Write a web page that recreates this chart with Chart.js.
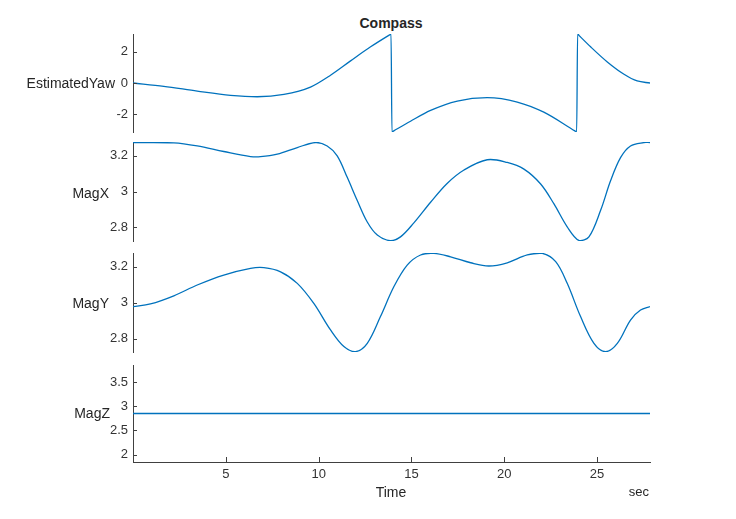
<!DOCTYPE html>
<html>
<head>
<meta charset="utf-8">
<title>Compass</title>
<script src="https://cdn.jsdelivr.net/npm/chart.js@4.4.1/dist/chart.umd.min.js"></script>
<style>
  html, body { margin: 0; padding: 0; background: #fff; }
  #fig { position: relative; width: 736px; height: 519px; overflow: hidden;
         font-family: "Liberation Sans", Arial, sans-serif; color: #262626; }
  #fig canvas { position: absolute; left: 0; }
  .txt { position: absolute; font-size: 14px; line-height: 16px; white-space: nowrap; }
  .center { transform: translateX(-50%); }
</style>
</head>
<body>
<div id="fig">
  <div class="txt center" style="left:391px; top:15px; font-weight:bold;">Compass</div>

  <canvas id="yawChart" width="736" height="110" style="top:28px"></canvas>
  <canvas id="magXChart" width="736" height="111" style="top:136px"></canvas>
  <canvas id="magYChart" width="736" height="111" style="top:247px"></canvas>
  <canvas id="magZChart" width="736" height="160" style="top:359px"></canvas>

  <div class="txt" style="right:621px; top:75px;">EstimatedYaw</div>
  <div class="txt" style="right:627px; top:185px;">MagX</div>
  <div class="txt" style="right:627px; top:295px;">MagY</div>
  <div class="txt" style="right:626px; top:405px;">MagZ</div>

  <div class="txt center" style="left:391px; top:484px;">Time</div>
  <div class="txt" style="right:87px; top:484px; font-size:13px;">sec</div>
</div>

<script>
// --- data ---
const timeRange = [0, 27.85];
const xTicks = [5, 10, 15, 20, 25];

const yawTime   = [0, 1.66, 3.46, 5.25, 6.69, 8.13, 9.56, 10.64, 11.72, 12.8, 13.8, 13.9,
                   13.95, 14.05, 14.95, 16.03, 17.47, 19.08, 20.7, 22.13, 23.8, 23.9,
                   23.95, 24.05, 24.65, 25.55, 26.45, 27.16, 27.85];
const yawValues = [0, -0.21, -0.52, -0.79, -0.88, -0.73, -0.26, 0.50, 1.42, 2.32, 3.07, 3.14,
                   -3.14, -3.07, -2.45, -1.76, -1.16, -0.94, -1.22, -1.87, -3.07, -3.14,
                   3.14, 3.02, 2.32, 1.35, 0.56, 0.13, 0.0];
const yawTicks  = [-2, 0, 2];
const yawLimits = [-Math.PI, Math.PI];

const magXTime   = [0, 2.2, 3.46, 4.89, 6.33, 6.87, 7.77, 8.85, 9.83, 10.46, 11.0, 11.54,
                    12.08, 12.62, 13.16, 13.85, 14.41, 15.13, 16.03, 16.92, 17.83, 19.08,
                    20.16, 21.06, 21.96, 22.67, 23.39, 24.02, 24.56, 25.19, 25.73, 26.27,
                    26.8, 27.52, 27.85];
const magXValues = [3.273, 3.271, 3.254, 3.223, 3.195, 3.194, 3.208, 3.245, 3.273, 3.254, 3.199, 3.079,
                    2.95, 2.83, 2.757, 2.726, 2.747, 2.825, 2.94, 3.045, 3.12, 3.177,
                    3.162, 3.125, 3.042, 2.932, 2.803, 2.727, 2.747, 2.895, 3.061, 3.19,
                    3.254, 3.273, 3.273];
const magXTicks  = [2.8, 3, 3.2];
const magXLimits = [2.724, 3.276];

const magYTime   = [0, 0.94, 2.2, 3.46, 4.89, 6.33, 7.05, 7.95, 8.85, 9.74, 10.64, 11.36,
                    11.99, 12.62, 13.33, 14.05, 14.77, 15.49, 16.21, 17.11, 18.19, 19.17,
                    20.16, 21.24, 22.05, 22.77, 23.39, 24.11, 24.83, 25.46, 26.09, 26.8,
                    27.34, 27.85];
const magYValues = [2.978, 2.993, 3.038, 3.098, 3.153, 3.19, 3.194, 3.171, 3.107, 2.996, 2.849, 2.757,
                    2.729, 2.775, 2.923, 3.088, 3.208, 3.264, 3.273, 3.254, 3.221, 3.203,
                    3.221, 3.264, 3.273, 3.227, 3.107, 2.923, 2.775, 2.729, 2.775, 2.904,
                    2.959, 2.978];
const magYTicks  = [2.8, 3, 3.2];
const magYLimits = [2.727, 3.275];

const magZTime   = [0, 27.85];
const magZValues = [2.85, 2.85];
const magZTicks  = [2, 2.5, 3, 3.5];
const magZLimits = [1.85, 3.85];

// --- styling ---
const lineColor = '#0072BD';
const axisColor = '#404040';
const tickColor = '#333333';
const fontFamily = '"Liberation Sans", Arial, sans-serif';

// MATLAB style ticks point into the axes
const innerTicks = {
    id: 'innerTicks',
    afterDraw(chart) {
        const { ctx, chartArea, scales } = chart;
        ctx.save();
        ctx.strokeStyle = axisColor;
        ctx.lineWidth = 1;
        scales.y.ticks.forEach(t => {
            const y = Math.round(scales.y.getPixelForValue(t.value)) + 0.5;
            ctx.beginPath();
            ctx.moveTo(chartArea.left, y);
            ctx.lineTo(chartArea.left + 4, y);
            ctx.stroke();
        });
        if (scales.x.options.display) {
            scales.x.ticks.forEach(t => {
                const x = Math.round(scales.x.getPixelForValue(t.value)) + 0.5;
                ctx.beginPath();
                ctx.moveTo(x, chartArea.bottom);
                ctx.lineTo(x, chartArea.bottom - 5);
                ctx.stroke();
            });
        }
        ctx.restore();
    }
};

function fixedTicks(list) {
    return scale => { scale.ticks = list.map(v => ({ value: v })); };
}

// smooth = true: spline through the points (no wraps in the series)
function drawPanel(id, times, values, ticks, limits, showTime, smooth) {
    const canvas = document.getElementById(id);
    const dataset = {
        data: times.map((t, i) => ({ x: t, y: values[i] })),
        borderColor: lineColor,
        borderWidth: 1.3,
        pointRadius: 0,
        fill: false
    };
    if (smooth) {
        dataset.tension = 0.35;
    } else {
        dataset.cubicInterpolationMode = 'monotone';
    }
    return new Chart(canvas, {
        type: 'line',
        data: { datasets: [dataset] },
        options: {
            responsive: false,
            animation: false,
            events: [],
            layout: { padding: { left: 0, right: 86, top: 6, bottom: showTime ? 0 : 6 } },
            plugins: {
                legend: { display: false },
                tooltip: { enabled: false }
            },
            scales: {
                x: {
                    type: 'linear',
                    min: timeRange[0],
                    max: timeRange[1],
                    display: showTime,
                    grid: { display: false, drawTicks: false },
                    border: { display: true, color: axisColor, width: 1 },
                    afterBuildTicks: fixedTicks(xTicks),
                    afterFit: scale => {
                        scale.height = showTime ? 57 : 0;
                        scale.paddingLeft = 0;
                        scale.paddingRight = 0;
                    },
                    ticks: {
                        color: tickColor,
                        font: { family: fontFamily, size: 13 },
                        padding: 5,
                        maxRotation: 0,
                        autoSkip: false,
                        callback: v => String(v)
                    }
                },
                y: {
                    type: 'linear',
                    min: limits[0],
                    max: limits[1],
                    grid: { display: false, drawTicks: false },
                    border: { display: true, color: axisColor, width: 1 },
                    afterBuildTicks: fixedTicks(ticks),
                    afterFit: scale => {
                        scale.width = 133;
                        scale.paddingTop = 0;
                        scale.paddingBottom = 0;
                    },
                    ticks: {
                        color: tickColor,
                        font: { family: fontFamily, size: 13 },
                        padding: 5,
                        autoSkip: false,
                        callback: v => String(v)
                    }
                }
            }
        },
        plugins: [innerTicks]
    });
}

drawPanel('yawChart', yawTime, yawValues, yawTicks, yawLimits, false, false);
drawPanel('magXChart', magXTime, magXValues, magXTicks, magXLimits, false, true);
drawPanel('magYChart', magYTime, magYValues, magYTicks, magYLimits, false, true);
drawPanel('magZChart', magZTime, magZValues, magZTicks, magZLimits, true, false);
</script>
</body>
</html>
